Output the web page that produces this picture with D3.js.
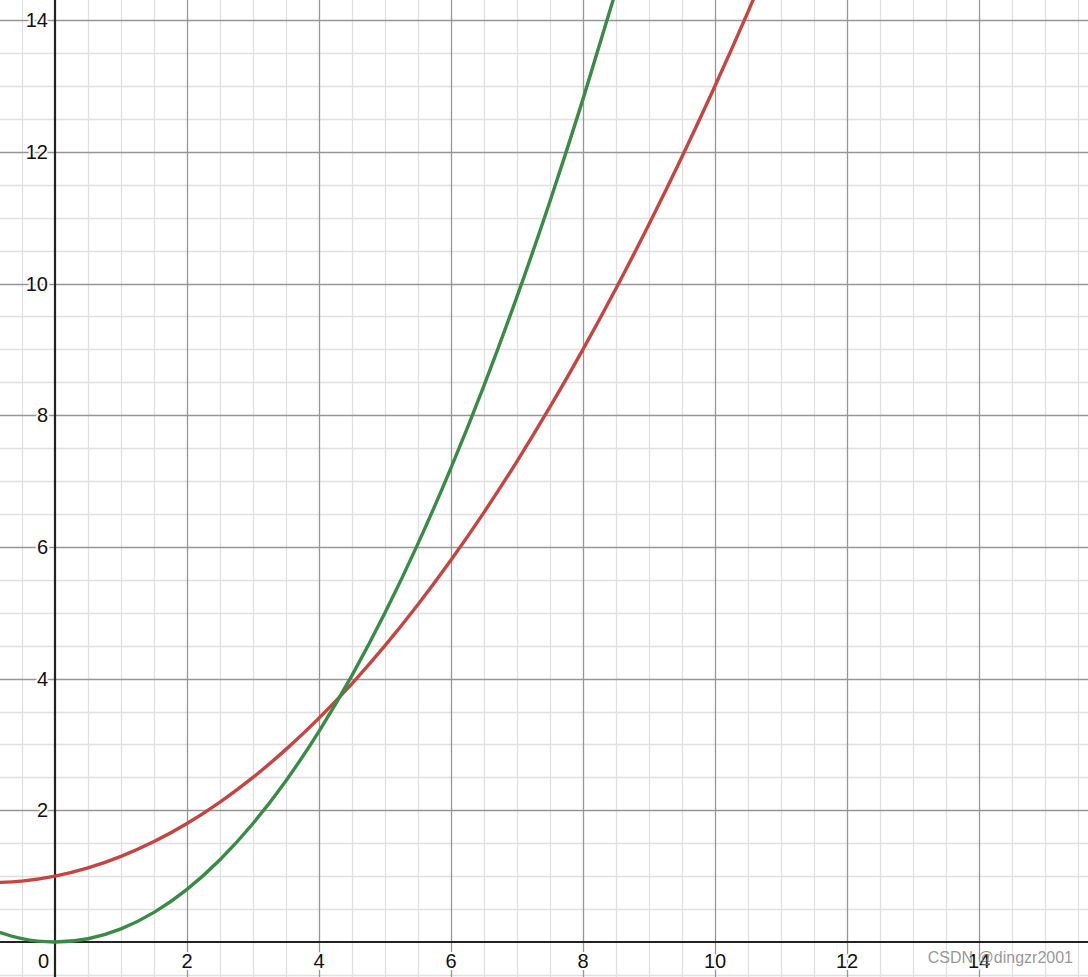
<!DOCTYPE html>
<html>
<head>
<meta charset="utf-8">
<script src="https://cdn.jsdelivr.net/npm/d3@7"></script>
<style>
  html, body { margin: 0; padding: 0; background: #fff; }
  svg { display: block; }
</style>
</head>
<body>
<div id="chart"></div>
<script>
// values
const xValues = [-1, -0.5, 0, 0.5, 1, 1.5, 2, 2.5, 3, 3.5, 4, 4.5, 5, 5.5, 6, 6.5, 7, 7.5, 8, 8.5, 9, 9.5, 10, 10.5, 11];
const greenValues = [0.2, 0.05, 0, 0.05, 0.2, 0.45, 0.8, 1.25, 1.8, 2.45, 3.2, 4.05, 5, 6.05, 7.2, 8.45, 9.8, 11.25, 12.8, 14.45, 16.2, 18.05, 20, 22.05, 24.2];
const redValues = [0.9, 0.925, 1, 1.125, 1.3, 1.525, 1.8, 2.125, 2.5, 2.925, 3.4, 3.925, 4.5, 5.125, 5.8, 6.525, 7.3, 8.125, 9, 9.925, 10.9, 11.925, 13, 14.125, 15.3];
const xTickLabels = [0, 2, 4, 6, 8, 10, 12, 14];
const yTickLabels = [2, 4, 6, 8, 10, 12, 14];
const watermark = "CSDN @dingzr2001";

const width = 1088, height = 977;

// origin sits at (55, 942), about 66px per unit on both axes
let x = d3.scaleLinear().domain([-55 / 66, (width - 55) / 66]).range([0, width]);
let y = d3.scaleLinear().domain([-(height - 942) / 65.85, 942 / 65.85]).range([height, 0]);

let svg = d3.select("#chart").append("svg")
    .attr("width", width)
    .attr("height", height);

svg.append("defs").append("clipPath").attr("id", "plot-clip")
    .append("rect").attr("width", width).attr("height", height);

//Grid: minor every 0.5, major every 2
const minorX = d3.range(-0.5, 16, 0.5);
const minorY = d3.range(-0.5, 15, 0.5);

let grid = svg.append("g").attr("class", "grid");
grid.selectAll(".minor-x").data(minorX.filter(d => d % 2 != 0))
    .enter().append("line")
    .attr("x1", d => Math.round(x(d)) + 0.5).attr("x2", d => Math.round(x(d)) + 0.5)
    .attr("y1", 0).attr("y2", height)
    .attr("stroke", "#e0e0e0").attr("stroke-width", 1.3);
grid.selectAll(".minor-y").data(minorY.filter(d => d % 2 != 0))
    .enter().append("line")
    .attr("y1", d => Math.round(y(d)) + 0.5).attr("y2", d => Math.round(y(d)) + 0.5)
    .attr("x1", 0).attr("x2", width)
    .attr("stroke", "#e0e0e0").attr("stroke-width", 1.3);
grid.selectAll(".major-x").data(minorX.filter(d => d % 2 == 0 && d != 0))
    .enter().append("line")
    .attr("x1", d => Math.round(x(d)) + 0.5).attr("x2", d => Math.round(x(d)) + 0.5)
    .attr("y1", 0).attr("y2", height)
    .attr("stroke", "#969696").attr("stroke-width", 1.3);
grid.selectAll(".major-y").data(minorY.filter(d => d % 2 == 0 && d != 0))
    .enter().append("line")
    .attr("y1", d => Math.round(y(d)) + 0.5).attr("y2", d => Math.round(y(d)) + 0.5)
    .attr("x1", 0).attr("x2", width)
    .attr("stroke", "#969696").attr("stroke-width", 1.3);

// axes lines
svg.append("line")
    .attr("x1", x(0)).attr("x2", x(0)).attr("y1", 0).attr("y2", height)
    .attr("stroke", "#222").attr("stroke-width", 2.2);
svg.append("line")
    .attr("x1", 0).attr("x2", width).attr("y1", y(0)).attr("y2", y(0))
    .attr("stroke", "#222").attr("stroke-width", 2.2);

// tick labels with white halo
const labelStyle = function(sel) {
    sel.style("font-family", "Liberation Sans, Arial, sans-serif")
        .style("font-size", "20px")
        .attr("fill", "#111")
        .attr("stroke", "#fff")
        .attr("stroke-width", 4)
        .attr("stroke-linejoin", "round")
        .attr("paint-order", "stroke");
};

svg.selectAll(".xlabel").data(xTickLabels)
    .enter().append("text")
    .attr("class", "xlabel")
    .attr("x", d => d == 0 ? x(0) - 6 : x(d))
    .attr("y", y(0) + 26)
    .style("text-anchor", d => d == 0 ? "end" : "middle")
    .text(d => d)
    .call(labelStyle);

svg.selectAll(".ylabel").data(yTickLabels)
    .enter().append("text")
    .attr("class", "ylabel")
    .attr("x", x(0) - 7)
    .attr("y", d => y(d) + 7)
    .style("text-anchor", "end")
    .text(d => d)
    .call(labelStyle);

// curves
let line = d3.line()
    .x(d => x(d[0]))
    .y(d => y(d[1]))
    .curve(d3.curveNatural);

let curves = svg.append("g").attr("clip-path", "url(#plot-clip)");
curves.append("path")
    .datum(xValues.map((d, i) => [d, redValues[i]]))
    .attr("d", line)
    .attr("fill", "none")
    .attr("stroke", "#c74440")
    .attr("stroke-width", 3.4);
curves.append("path")
    .datum(xValues.map((d, i) => [d, greenValues[i]]))
    .attr("d", line)
    .attr("fill", "none")
    .attr("stroke", "#388c46")
    .attr("stroke-width", 3.4);

// watermark
svg.append("text")
    .attr("x", 1073)
    .attr("y", 963)
    .style("text-anchor", "end")
    .style("font-family", "Liberation Sans, Arial, sans-serif")
    .style("font-size", "16px")
    .attr("fill", "#8a8a8a")
    .attr("fill-opacity", 0.9)
    .text(watermark);
</script>
</body>
</html>
